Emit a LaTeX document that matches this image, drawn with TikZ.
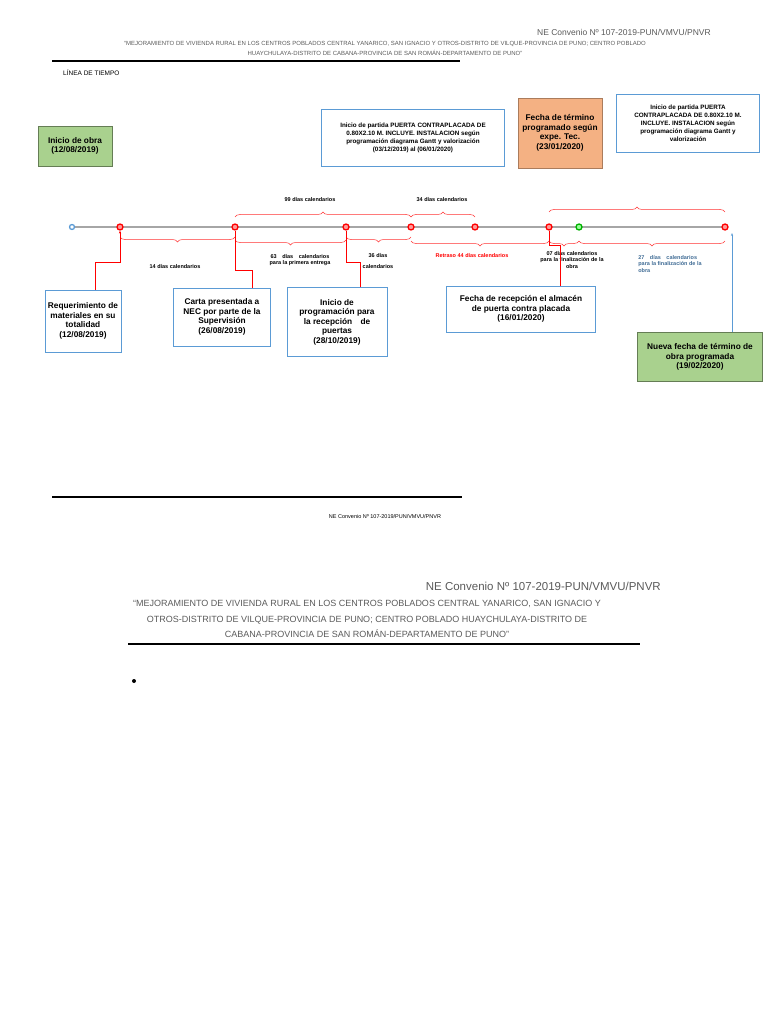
\documentclass[tikz,border=0pt]{standalone}
\usepackage{fontspec}
\setmainfont{Liberation Sans}
\usetikzlibrary{decorations.pathreplacing,arrows.meta}
\definecolor{boxblue}{RGB}{91,155,213}
\definecolor{obragreen}{RGB}{169,209,142}
\definecolor{termorange}{RGB}{244,177,131}
\definecolor{headgray}{RGB}{90,90,90}
\begin{document}
\begin{tikzpicture}[x=1pt, y=-1pt,
  every node/.style={inner sep=1pt, align=center},
  note/.style={draw=boxblue, line width=0.6pt, fill=white, font=\fontsize{8.3}{9.5}\selectfont\bfseries},
  small/.style={font=\fontsize{5.5}{6.6}\selectfont\bfseries},
  hito/.style={circle, draw=red, fill=red!40, line width=1.3pt, minimum size=6pt, inner sep=0pt},
  llave/.style={red!80, line width=0.5pt, decorate, decoration={brace, amplitude=5pt}},
  enlace/.style={red, line width=0.8pt}]
  \useasboundingbox (0,0) rectangle (768,1024);

  % upper header
  \node[anchor=east, text=headgray, font=\fontsize{8.5}{9}\selectfont] (conv1) at (712,32) {NE Convenio Nº 107-2019-PUN/VMVU/PNVR};
  \node[text=headgray, font=\fontsize{6}{10}\selectfont] (tit1) at (385,48) {“MEJORAMIENTO DE VIVIENDA RURAL EN LOS CENTROS POBLADOS CENTRAL YANARICO, SAN IGNACIO Y OTROS-DISTRITO DE VILQUE-PROVINCIA DE PUNO; CENTRO POBLADO\\HUAYCHULAYA-DISTRITO DE CABANA-PROVINCIA DE SAN ROMÁN-DEPARTAMENTO DE PUNO”};
  \draw[line width=2.5pt] (52,61) -- (460,61);
  \node[anchor=west, font=\fontsize{6.5}{7}\selectfont] (titulo) at (62,73) {LÍNEA DE TIEMPO};

  % upper boxes
  \node[note, fill=obragreen, draw=obragreen!60!black, minimum width=74pt, minimum height=40pt] (obra) at (75,146) {Inicio de obra\\(12/08/2019)};
  \node[note, font=\fontsize{6.3}{8}\selectfont\bfseries, minimum width=183pt, minimum height=57pt] (partida1) at (413,138) {Inicio de partida PUERTA CONTRAPLACADA DE\\0.80X2.10 M. INCLUYE. INSTALACION según\\programación diagrama Gantt y valorización\\(03/12/2019) al (06/01/2020)};
  \node[note, fill=termorange, draw=termorange!70!black, minimum width=84pt, minimum height=70pt] (termino) at (560,133) {Fecha de término\\programado según\\expe. Tec.\\(23/01/2020)};
  \node[note, font=\fontsize{6.3}{8}\selectfont\bfseries, minimum width=143pt, minimum height=58pt] (partida2) at (688,123) {Inicio de partida PUERTA\\CONTRAPLACADA DE 0.80X2.10 M.\\INCLUYE. INSTALACION según\\programación diagrama Gantt y\\valorización};

  % timeline
  \draw[gray!70, line width=1.2pt] (72,227) -- (725,227);
  \node[circle, draw=boxblue, fill=white, line width=1.3pt, minimum size=5pt, inner sep=0pt] (t0) at (72,227) {};
  \foreach \n/\x in {1/120, 2/235, 3/346, 4/411, 5/475, 6/549, 8/725}
    \node[hito] (t\n) at (\x,227) {};
  \node[circle, draw=green!70!black, fill=green!40, line width=1.3pt, minimum size=6pt, inner sep=0pt] (t7) at (579,227) {};

  % braces above
  \draw[llave] (235,217) -- (411,217);
  \draw[llave] (411,217) -- (475,217);
  \draw[llave] (549,212) -- (725,212);
  \node[small] (d99) at (310,200) {99 días calendarios};
  \node[small] (d34) at (442,200) {34 días calendarios};

  % braces below
  \draw[llave] (235,237) -- (120,237);
  \draw[llave] (346,240) -- (235,240);
  \draw[llave] (411,237) -- (346,237);
  \draw[llave] (549,241) -- (411,241);
  \draw[llave] (579,241) -- (549,241);
  \draw[llave] (725,241) -- (579,241);
  \node[small] (d14) at (175,267) {14 días calendarios};
  \node[small] (d63) at (300,260) {63\quad días\quad calendarios\\para la primera entrega};
  \node[small] (d36) at (378,261) {36 días\\[5pt]calendarios};
  \node[small, text=red] (d44) at (472,256) {Retraso 44 días calendarios};
  \node[small] (d07) at (572,260) {07 días calendarios\\para la finalización de la\\obra};
  \node[small, text=boxblue!70!black, align=left] (d27) at (670,264) {27\quad días\quad calendarios\\para la finalización de la\\obra};

  % lower boxes
  \node[note, minimum width=76pt, minimum height=62pt] (req) at (83,321) {Requerimiento de\\materiales en su\\totalidad\\(12/08/2019)};
  \node[note, minimum width=97pt, minimum height=58pt] (carta) at (222,317) {Carta presentada a\\NEC por parte de la\\Supervisión\\(26/08/2019)};
  \node[note, minimum width=100pt, minimum height=69pt] (prog) at (337,322) {Inicio de\\programación para\\la recepción\quad de\\puertas\\(28/10/2019)};
  \node[note, minimum width=149pt, minimum height=46pt] (recep) at (521,309) {Fecha de recepción el almacén\\de puerta contra placada\\(16/01/2020)};
  \node[note, fill=obragreen, draw=obragreen!60!black, minimum width=125pt, minimum height=49pt] (nueva) at (700,357) {Nueva fecha de término de\\obra programada\\(19/02/2020)};

  % connectors
  \draw[enlace, -{Stealth[length=3pt]}] (req.north -| 95,0) |- (120,262) -- (t1);
  \draw[enlace] (carta.north -| 252,0) |- (235,270) -- (t2);
  \draw[enlace] (prog.north -| 360,0) |- (346,262) -- (t3);
  \draw[enlace] (recep.north -| 560,0) |- (549,245) -- (t6);
  \draw[boxblue, line width=0.6pt, -{Stealth[length=3pt]}] (nueva.north -| 732,0) -- (732,233);

  % page footer
  \draw[line width=2.5pt] (52,497) -- (462,497);
  \node[font=\fontsize{5.5}{6}\selectfont] (pie) at (385,517) {NE Convenio Nº 107-2019/PUN/VMVU/PNVR};

  % second header
  \node[anchor=east, text=headgray, font=\fontsize{11.5}{12}\selectfont] (conv2) at (662,586) {NE Convenio Nº 107-2019-PUN/VMVU/PNVR};
  \node[text=headgray, font=\fontsize{9}{15.5}\selectfont] (tit2) at (367,619) {“MEJORAMIENTO DE VIVIENDA RURAL EN LOS CENTROS POBLADOS CENTRAL YANARICO, SAN IGNACIO Y\\OTROS-DISTRITO DE VILQUE-PROVINCIA DE PUNO; CENTRO POBLADO HUAYCHULAYA-DISTRITO DE\\CABANA-PROVINCIA DE SAN ROMÁN-DEPARTAMENTO DE PUNO”};
  \draw[line width=2.5pt] (128,644) -- (640,644);
  \fill (134,681) circle (2pt);
\end{tikzpicture}
\end{document}
